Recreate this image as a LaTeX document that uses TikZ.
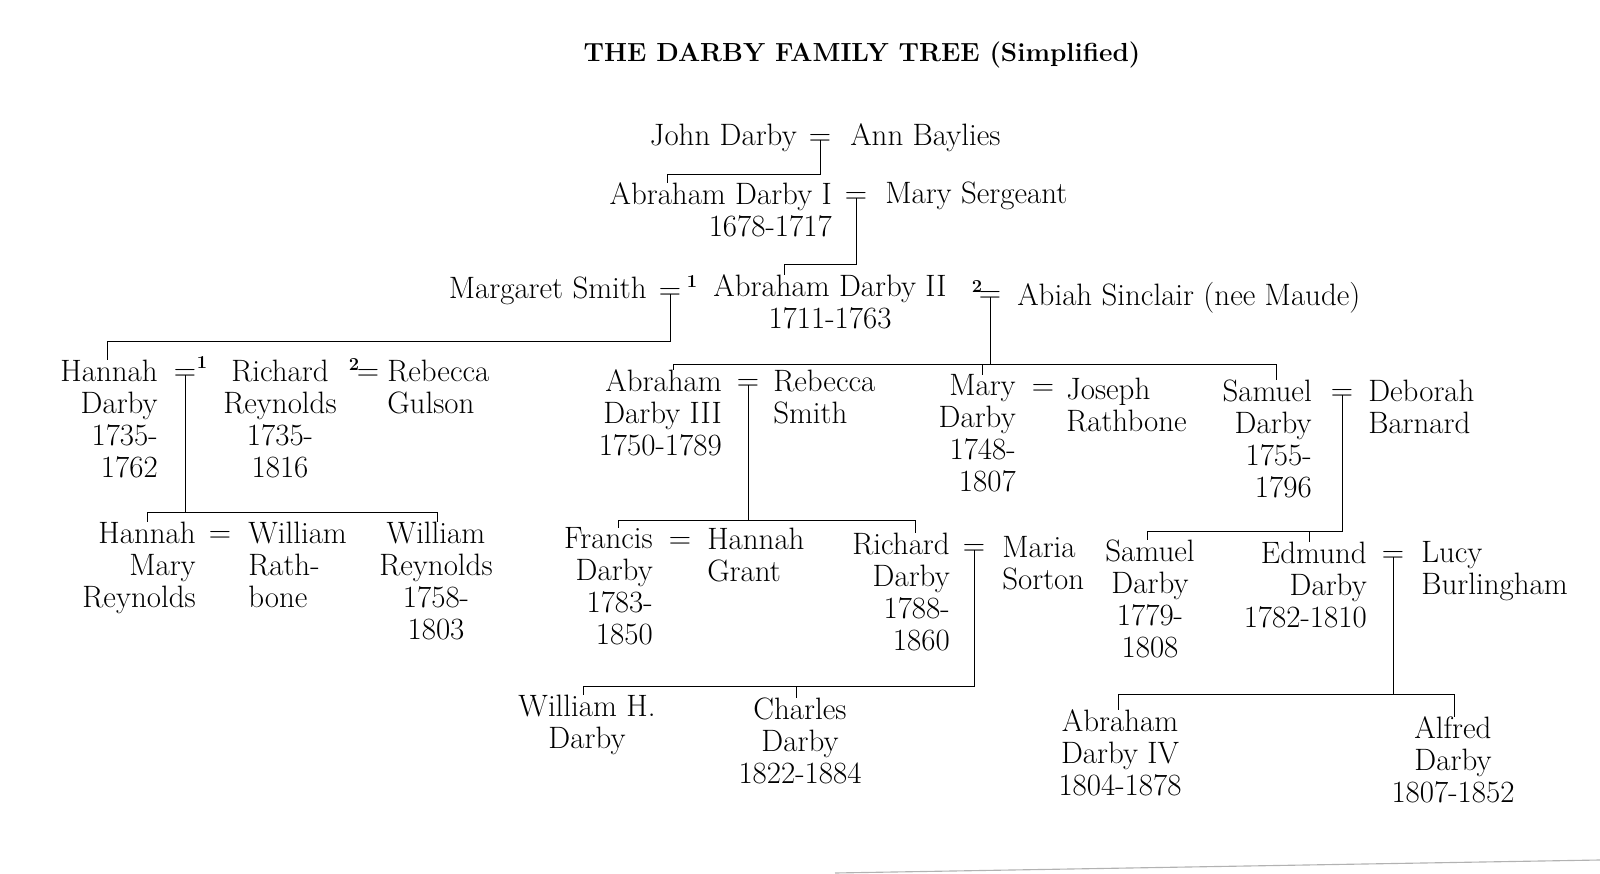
\documentclass[tikz,border=0pt]{standalone}
\usepackage{tikz}
\usetikzlibrary{positioning, calc}

\begin{document}
\begin{tikzpicture}[x=0.025cm, y=-0.025cm,
  person/.style={inner sep=0pt, font=\fontsize{22}{22.7}\selectfont},
  lperson/.style={person, align=left},
  rperson/.style={person, align=right},
  cperson/.style={person, align=center},
  wed/.style={inner sep=0pt, font=\fontsize{22}{22.7}\selectfont},
  num/.style={inner sep=0pt, font=\bfseries\fontsize{13}{15}\selectfont},
  heading/.style={inner sep=0pt, font=\bfseries\fontsize{18.6}{20}\selectfont},
  kin/.style={line width=0.7pt}]
\useasboundingbox (0,0) rectangle (1600,874);

% Title
\node[heading, anchor=base] (title) at (862,62) {THE DARBY FAMILY TREE (Simplified)};

% First generations
\node[person, anchor=base east] (jd) at (797,145) {John Darby};
\node[wed] (m1) at (820,140) {=};
\node[person, anchor=base west] (ab) at (850,145) {Ann Baylies};

\node[rperson, anchor=north east] (ad1) at (832,182.5) {Abraham Darby I\\1678-1717};
\node[wed] (m2) at (856,198) {=};
\node[person, anchor=base west] (ms) at (885,203) {Mary Sergeant};

\node[person, anchor=base east] (mgs) at (647,298) {Margaret Smith};
\node[wed] (m3) at (670,294) {=};
\node[num] (s1) at (692,282) {1};
\node[cperson, anchor=north] (ad2) at (830,274.5) {Abraham Darby II\\1711-1763};
\node[num] (s2) at (977,287) {2};
\node[wed] (m4) at (990,297) {=};
\node[person, anchor=base west] (as) at (1017,305) {Abiah Sinclair (nee Maude)};

% Children of Abraham Darby II
\node[rperson, anchor=north east] (hd) at (158,359.5) {Hannah\\Darby\\1735-\\1762};
\node[wed] (m5) at (185,375) {=};
\node[num] (s3) at (202,363) {1};
\node[cperson, anchor=north] (rr) at (280,359.5) {Richard\\Reynolds\\1735-\\1816};
\node[num] (s4) at (354,365) {2};
\node[wed] (m6) at (368,375) {=};
\node[lperson, anchor=north west] (rg) at (387,359.5) {Rebecca\\Gulson};

\node[rperson, anchor=north east] (ad3) at (722,369.5) {Abraham\\Darby III\\1750-1789};
\node[wed] (m7) at (748,385) {=};
\node[lperson, anchor=north west] (rs) at (773,369.5) {Rebecca\\Smith};
\node[rperson, anchor=north east] (md) at (1016,374.5) {Mary\\Darby\\1748-\\1807};
\node[wed] (m8) at (1043,390) {=};
\node[lperson, anchor=north west] (jr) at (1066,377.5) {Joseph\\Rathbone};
\node[rperson, anchor=north east] (sd) at (1312,379.5) {Samuel\\Darby\\1755-\\1796};
\node[wed] (m9) at (1342,395) {=};
\node[lperson, anchor=north west] (db) at (1368,379.5) {Deborah\\Barnard};

% Grandchildren
\node[rperson, anchor=north east] (hmr) at (196,521.5) {Hannah\\Mary\\Reynolds};
\node[wed] (m10) at (220,537) {=};
\node[lperson, anchor=north west] (wrb) at (248,521.5) {William\\Rath-\\bone};
\node[cperson, anchor=north] (wr) at (436,521.5) {William\\Reynolds\\1758-\\1803};

\node[rperson, anchor=north east] (fd) at (653,527.5) {Francis\\Darby\\1783-\\1850};
\node[wed] (m11) at (680,543) {=};
\node[lperson, anchor=north west] (hg) at (707,527.5) {Hannah\\Grant};
\node[rperson, anchor=north east] (rd) at (950,532.5) {Richard\\Darby\\1788-\\1860};
\node[wed] (m12) at (974,550) {=};
\node[lperson, anchor=north west] (mso) at (1002,536.5) {Maria\\Sorton};

\node[cperson, anchor=north] (sd2) at (1150,539.5) {Samuel\\Darby\\1779-\\1808};
\node[rperson, anchor=north east] (ed) at (1367,541.5) {Edmund\\Darby\\1782-1810};
\node[wed] (m13) at (1393,557) {=};
\node[lperson, anchor=north west] (lb) at (1421,541.5) {Lucy\\Burlingham};

% Great-grandchildren
\node[cperson, anchor=north] (whd) at (587,694.5) {William H.\\Darby};
\node[cperson, anchor=north] (cd) at (800,697.5) {Charles\\Darby\\1822-1884};
\node[cperson, anchor=north] (ad4) at (1120,709.5) {Abraham\\Darby IV\\1804-1878};
\node[cperson, anchor=north] (ald) at (1453,716.5) {Alfred\\Darby\\1807-1852};

% Drop points on the children
\coordinate (ad1-up) at ($(ad1.north east)+(-165,0)$);
\coordinate (ad2-up) at ($(ad2.north)+(-46,0)$);
\coordinate (hd-up) at ($(hd.north east)+(-51,0)$);
\coordinate (ad3-up) at ($(ad3.north east)+(-49,0)$);
\coordinate (md-up) at ($(md.north east)+(-34,0)$);
\coordinate (sd-up) at ($(sd.north east)+(-36,0)$);
\coordinate (hmr-up) at ($(hmr.north east)+(-49,0)$);
\coordinate (wr-up) at ($(wr.north)+(1,0)$);
\coordinate (fd-up) at ($(fd.north east)+(-35,0)$);
\coordinate (rd-up) at ($(rd.north east)+(-35,0)$);
\coordinate (sd2-up) at ($(sd2.north)+(-3,0)$);
\coordinate (ed-up) at ($(ed.north east)+(-58,0)$);
\coordinate (whd-up) at ($(whd.north)+(-4,0)$);
\coordinate (cd-up) at ($(cd.north)+(-4,0)$);
\coordinate (ad4-up) at ($(ad4.north)+(-2,0)$);
\coordinate (ald-up) at ($(ald.north)+(1,0)$);

% Bar heights
\coordinate (b1) at (0,174);
\coordinate (b2) at (0,264);
\coordinate (b3) at (0,341);
\coordinate (b4) at (0,364);
\coordinate (b5) at (0,512);
\coordinate (b6) at (0,520);
\coordinate (b7) at (0,531);
\coordinate (b8) at (0,686);
\coordinate (b9) at (0,694);

% Lines of descent
\draw[kin] (m1.center) |- (b1 -| ad1-up) -- (ad1-up);
\draw[kin] (m2.center) |- (b2 -| ad2-up) -- (ad2-up);
\draw[kin] (m3.center) |- (b3 -| hd-up) -- (hd-up);
\draw[kin] (m4.center) -- (m4.center |- b4);
\draw[kin] (ad3-up) |- (b4 -| sd-up) -- (sd-up);
\draw[kin] (md-up) -- (md-up |- b4);
\draw[kin] (m5.center) -- (m5.center |- b5);
\draw[kin] (hmr-up) |- (b5 -| wr-up) -- (wr-up);
\draw[kin] (m7.center) -- (m7.center |- b6);
\draw[kin] (fd-up) |- (b6 -| rd-up) -- (rd-up);
\draw[kin] (m9.center) |- (b7 -| sd2-up) -- (sd2-up);
\draw[kin] (ed-up) -- (ed-up |- b7);
\draw[kin] (m12.center) |- (b8 -| whd-up) -- (whd-up);
\draw[kin] (cd-up) -- (cd-up |- b8);
\draw[kin] (m13.center) -- (m13.center |- b9);
\draw[kin] (ad4-up) |- (b9 -| ald-up) -- (ald-up);

% Page edge
\draw[gray!60, line width=0.8pt] (835,873) -- (1600,860);
\end{tikzpicture}
\end{document}
